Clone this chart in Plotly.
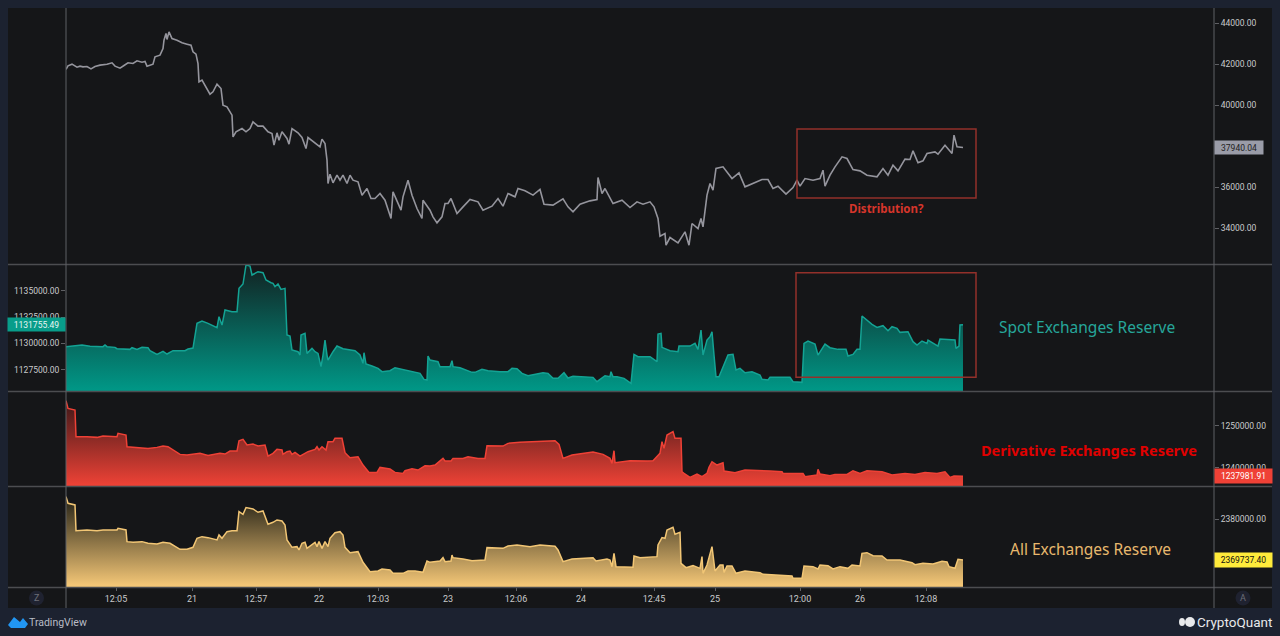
import plotly.graph_objects as go

# x is the bar position on the time scale (the scale is not even in days, so bars it is)
tick_bars = [50, 126, 190, 253, 312, 382, 450, 515, 588, 649, 734, 794, 860]
tick_labels = ["12:05", "21", "12:57", "22", "12:03", "23", "12:06", "24", "12:45", "25", "12:00", "26", "12:08"]

price_bars = [0, 2, 6, 9, 11, 14, 17, 21, 25, 29, 34, 41, 46, 49, 54, 58, 62, 67, 71, 76, 79, 81, 87, 89, 94, 97, 98, 100, 101, 103, 106, 111, 116, 121, 125, 127, 130, 132, 133, 136, 140, 144, 147, 151, 155, 157, 161, 164, 166, 167, 170, 176, 180, 184, 187, 192, 197, 202, 206, 208, 211, 213, 216, 221, 223, 226, 232, 236, 240, 242, 249, 254, 256, 259, 261, 262, 264, 267, 271, 274, 277, 281, 284, 287, 292, 296, 301, 305, 309, 314, 319, 322, 325, 327, 331, 335, 337, 342, 346, 351, 356, 357, 364,
              367, 371, 376, 379, 382, 385, 387, 391, 397, 404, 412, 417, 426, 432, 437, 442, 449, 452, 459, 467, 474, 478, 487, 497, 502, 507, 514, 524, 531, 532, 536, 539, 547, 556, 564, 571, 577, 584, 588, 592, 594, 599, 600, 604, 612, 619, 623, 626, 632, 635, 637, 641, 644, 647, 650, 657, 666, 673, 679, 689, 696, 702, 707, 712, 720, 727, 731, 734, 739, 747, 754, 757, 759, 764, 769, 776, 781, 787, 794,
              801, 811, 817, 822, 827, 832, 839, 844, 847, 852, 857, 861, 869, 872, 879, 886, 888, 891, 897]
price_values = [41751, 41930, 42011, 41930, 41865, 41914, 41881, 41897, 41783, 41897, 41963, 42011, 42077, 41914, 41816, 41946, 42077, 42044, 42174, 42109, 42142, 41914, 42011, 42370, 42451, 42777, 43185, 43511, 43218, 43592, 43267, 43185, 43055, 42989, 42940, 42615, 42500, 42044, 41147, 41229, 40870, 40544, 40658, 41033, 40821, 40007, 39925, 39632, 39518, 38458, 38703, 38865, 38703, 38865, 39191, 38980, 38980, 38703, 38621, 38050, 38654, 38295, 38703, 38377, 38099, 38865, 38654, 38425, 37887, 38425, 38165, 37969, 38344, 38132, 37317, 36176, 36632, 36209, 36584, 36339, 36584, 36176, 36584, 36339, 36257, 35605, 35931, 35442, 35442, 35687, 35361, 34953, 34465, 35769, 35361, 34872, 35524, 36339, 35605, 34953, 34465, 35361, 34872,
                34546, 34253, 34546, 35198, 35198, 35442, 35198, 34709, 35035, 35394, 35279, 34872, 35068, 35442, 35068, 35687, 35524, 35931, 35817, 35606, 35883, 35165, 35117, 35426, 35035, 34790, 35165, 35328, 35394, 36469, 35687, 35931, 35198, 35361, 35002, 35279, 35165, 35279, 35035, 34464, 33601, 33731, 33160, 33535, 33275, 33812, 33160, 34220, 33975, 34464, 34057, 35606, 36176, 35850, 36910, 36991, 36420, 36698, 36013, 36209, 36372, 36372, 35932, 36046, 35654, 35980, 36339, 36046, 36420, 36339, 36420, 36828, 36046, 36583, 36991, 37480, 37398, 36860, 36795,
                36583, 36502, 36910, 36583, 37072, 36795, 37366, 37349, 37773, 37187, 37284, 37643, 37724, 37610, 38050, 37643, 38540, 37969, 37940.04]

spot_bars = [0, 9, 16, 24, 37, 39, 41, 49, 51, 64, 66, 71, 76, 82, 84, 91, 97, 101, 107, 119, 122, 127, 129, 131, 136, 142, 151, 153, 156, 159, 166, 171, 173, 177, 180, 184, 186, 192, 197, 200, 205, 207, 209, 212, 215, 219, 221, 224, 226, 232, 234, 235, 239, 241, 246, 249, 252, 255, 257, 259, 261, 262, 267, 271, 277, 289, 294, 297, 298, 300, 306, 312, 316, 324, 329, 336, 344, 351, 354, 358, 361, 362, 364,
             372, 374, 384, 386, 387, 394, 406, 409, 416, 422, 434, 442, 446, 451, 456, 462, 477, 482, 487, 492, 498, 502, 507, 521, 527, 531, 539, 544, 545, 547, 551, 558, 565, 568, 572, 584, 591, 592, 595, 596, 604, 612, 613, 624, 629, 632, 635, 637, 641, 644, 646, 648, 650, 653, 657, 662, 667, 670, 674, 679, 686, 694, 696, 702, 704, 716, 724, 727, 736, 738, 742, 749, 752, 759, 764, 772, 780, 782, 787, 791, 794,
             796, 801, 806, 811, 817, 822, 826, 831, 834, 842, 847, 851, 856, 861, 862, 872, 874, 889, 890, 893, 894, 897]
spot_values = [1129683, 1129746, 1129841, 1129715, 1129683, 1129841, 1129683, 1129620, 1129493, 1129430, 1129588, 1129430, 1129620, 1129588, 1129303, 1128955, 1129240, 1128987, 1129303, 1129303, 1129461, 1129556, 1130696, 1131899, 1132120, 1131899, 1131487, 1132532, 1131740, 1133165, 1133006, 1133006, 1135222, 1135633, 1137437, 1137342, 1136488, 1136804, 1136709, 1136013, 1135760, 1135697, 1135380, 1135633, 1135127, 1135222, 1130791, 1130696, 1129367, 1129208, 1128892, 1130791, 1130949, 1129050, 1129525, 1129208, 1129050, 1127784, 1128892, 1130316, 1128892, 1128417, 1129208, 1129746, 1129493, 1129303, 1128892, 1128101, 1129113, 1128037, 1127847, 1127626, 1127309, 1127404, 1127689, 1127531, 1127309, 1127214, 1127151, 1126581, 1126518, 1128797, 1128417,
               1128259, 1127784, 1127784, 1128354, 1127784, 1127689, 1127246, 1127246, 1127531, 1127404, 1127309, 1127309, 1127626, 1127594, 1127151, 1126930, 1127214, 1127151, 1126676, 1126676, 1127214, 1126708, 1126866, 1126835, 1126771, 1126360, 1126930, 1126835, 1127309, 1126835, 1126835, 1126676, 1126202, 1128955, 1128734, 1128734, 1128259, 1130886, 1130949, 1129620, 1129303, 1129208, 1129746, 1129746, 1130000, 1129430, 1131266, 1128892, 1130316, 1130633, 1131107, 1128892, 1126835, 1126835, 1127784, 1128892, 1128955, 1127467, 1127626, 1127214, 1127309, 1126993, 1126581, 1126518, 1126771, 1126771, 1126771, 1126360, 1126296, 1129999, 1130221, 1129936, 1128892, 1129936, 1129588, 1129430, 1129430, 1128797, 1128955, 1129430, 1129430,
               1132595, 1132152, 1131804, 1131519, 1131677, 1131202, 1131582, 1131424, 1131044, 1131107, 1130158, 1129841, 1130221, 1130000, 1130316, 1129746, 1130411, 1130316, 1129525, 1129746, 1131740, 1131755.49]

deriv_bars = [0, 2, 9, 10, 21, 31, 37, 51, 52, 60, 61, 67, 82, 91, 97, 102, 109, 114, 121, 134, 142, 154, 159, 164, 171, 173, 177, 181, 187, 192, 199, 202, 207, 211, 216, 217, 221, 224, 226, 229, 234, 242, 249, 251, 253, 256, 260, 262, 267, 269, 276, 279, 284, 292, 297, 303, 311, 314, 324, 329, 337, 339, 346, 352, 359, 364,
              369, 374, 377, 379, 385, 387, 397, 402, 412, 419, 421, 437, 442, 454, 471, 481, 489, 493, 497, 506, 521, 527, 537, 544, 546, 548, 549, 564, 581, 587, 594, 596, 598, 601, 607, 609, 615, 616, 618, 624, 631, 636, 641, 643, 646, 651, 657, 658, 669, 679, 704, 716, 717, 737, 739, 751, 752, 754, 764, 769, 781, 787, 794,
              801, 816, 826, 839, 849, 859, 871, 879, 884, 888, 896, 897]
deriv_values = [1255955, 1254129, 1253732, 1247380, 1247380, 1247221, 1247539, 1247380, 1248174, 1247777, 1244998, 1244839, 1244601, 1244839, 1245157, 1244998, 1244045, 1243172, 1243013, 1243410, 1242934, 1243410, 1243251, 1243966, 1243966, 1246427, 1246745, 1245395, 1245633, 1245157, 1245395, 1242775, 1243410, 1244363, 1244204, 1243172, 1243807, 1243966, 1243172, 1243648, 1242775, 1243807, 1244363, 1244998, 1244204, 1244998, 1244204, 1246189, 1246189, 1246983, 1246983, 1243569, 1242378, 1242616, 1240631, 1238884, 1238884, 1240075, 1239678, 1238884, 1238646, 1239281, 1239758, 1239440, 1240464, 1240393,
                1240631, 1241584, 1242219, 1241584, 1241584, 1242219, 1242219, 1242616, 1242219, 1242219, 1245236, 1245157, 1245792, 1246030, 1246189, 1246189, 1246427, 1245554, 1242219, 1243013, 1243410, 1243728, 1243172, 1242219, 1241028, 1244045, 1241187, 1241663, 1241584, 1241663, 1243410, 1246189, 1244601, 1247777, 1248571, 1246983, 1246983, 1239043, 1238646, 1237693, 1238488, 1237852, 1238646, 1240075, 1241425, 1240631, 1241187, 1239202, 1238805, 1239440, 1239202, 1239043, 1238646, 1238646, 1237852, 1238249, 1239599, 1238488, 1238090, 1238408, 1238408, 1239281, 1238646,
                1239281, 1239043, 1238249, 1238646, 1238408, 1238884, 1238646, 1239043, 1237693, 1238010, 1238010, 1237981.91]

all_bars = [0, 2, 9, 10, 21, 31, 37, 51, 52, 60, 61, 67, 76, 82, 91, 97, 104, 114, 121, 127, 131, 136, 142, 151, 153, 156, 161, 166, 171, 173, 177, 180, 187, 192, 197, 202, 207, 211, 216, 219, 221, 226, 231, 233, 236, 239, 241, 246, 249, 251, 253, 256, 259, 262, 264, 269, 274, 277, 279, 284, 292, 297, 304, 312, 316, 324, 327, 337, 342, 349, 357, 361, 364,
            374, 377, 379, 385, 386, 387, 397, 406, 419, 421, 437, 442, 451, 464, 474, 489, 492, 497, 506, 521, 527, 530, 541, 544, 546, 548, 550, 567, 568, 574, 591, 592, 596, 599, 601, 607, 609, 614, 615, 620, 627, 634, 636, 637, 641, 646, 649, 654, 657, 658, 661, 666, 670, 679, 694, 697, 726, 727, 736, 738, 747, 752, 754, 762, 767, 774, 782, 786, 794,
            796, 801, 807, 816, 821, 834, 846, 849, 857, 867, 876, 881, 883, 889, 892, 897]
all_values = [2385718, 2384037, 2383616, 2377140, 2377309, 2377140, 2377309, 2377309, 2377729, 2377309, 2374365, 2374197, 2374365, 2373945, 2373776, 2374197, 2373945, 2372431, 2372431, 2372935, 2375206, 2375626, 2375374, 2374786, 2376047, 2375206, 2376888, 2377140, 2377140, 2381934, 2381261, 2382943, 2382607, 2381766, 2382102, 2378738, 2379243, 2379832, 2379579, 2378570, 2374786, 2372935, 2373104, 2372263, 2373945, 2374197, 2372683, 2373524, 2374197, 2373104, 2374365, 2372683, 2374365, 2373104, 2375206, 2376636, 2376888, 2376047, 2372935, 2371590, 2371842, 2369151, 2366797, 2366966, 2367469, 2367216, 2366376, 2366376, 2366966, 2366966, 2366628, 2369488, 2369151,
              2369488, 2370328, 2369319, 2369488, 2370998, 2370328, 2369992, 2369571, 2369740, 2372851, 2372683, 2373272, 2373524, 2373104, 2373524, 2373188, 2372263, 2369319, 2369992, 2370328, 2370328, 2369488, 2369992, 2369740, 2368058, 2371422, 2368058, 2367889, 2370749, 2370328, 2370581, 2373524, 2375374, 2375206, 2377309, 2377982, 2376215, 2376720, 2368899, 2367805, 2368310, 2367637, 2370581, 2366376, 2368478, 2373104, 2366966, 2368478, 2368478, 2366628, 2368226, 2368226, 2366376, 2366966, 2366544, 2366123, 2365703, 2365113, 2365113, 2368226, 2368058, 2367469, 2368478, 2368310, 2367469, 2368058, 2367637, 2368478, 2368226,
              2371421, 2371589, 2370833, 2370748, 2369739, 2369739, 2369066, 2368562, 2368898, 2368730, 2369403, 2369234, 2368057, 2367637, 2369907, 2369737.40]

price_ticks = [34000, 36000, 40000, 42000, 44000]
spot_ticks = [1127500, 1130000, 1132500, 1135000]
deriv_ticks = [1240000, 1250000]
all_ticks = [2380000]

W, H = 1280, 636
LEFT, RIGHT, TOP, BOTTOM = 66, 1214, 8, 587
BG_OUT = "#1c2230"
BG_IN = "#151618"
AXIS_LINE = "#5f6064"
SEP_LINE = "#4c4d50"
LABEL = "#c9cacc"
FONT = "Roboto"
NOTE_FONT = "Noto Sans"


def fx(p):
    return (p - LEFT) / (RIGHT - LEFT)


def fy(p):
    return (BOTTOM - p) / (BOTTOM - TOP)


fig = go.Figure()

fig.add_trace(go.Scatter(x=price_bars, y=price_values, yaxis="y", mode="lines",
                         line=dict(color="#95959d", width=1.6)))
fig.add_trace(go.Scatter(x=spot_bars, y=spot_values, yaxis="y2", mode="lines",
                         line=dict(color="#14a394", width=1.5), fill="tozeroy",
                         fillgradient=dict(type="vertical", start=1125477, stop=1137440,
                                           colorscale=[[0, "rgb(0,152,135)"], [1, "rgb(18,34,34)"]])))
fig.add_trace(go.Scatter(x=deriv_bars, y=deriv_values, yaxis="y3", mode="lines",
                         line=dict(color="#ef4136", width=1.5), fill="tozeroy",
                         fillgradient=dict(type="vertical", start=1235643, stop=1256000,
                                           colorscale=[[0, "rgb(239,66,54)"], [1, "rgb(60,24,24)"]])))
fig.add_trace(go.Scatter(x=all_bars, y=all_values, yaxis="y4", mode="lines",
                         line=dict(color="#f2c675", width=1.5), fill="tozeroy",
                         fillgradient=dict(type="vertical", start=2362929, stop=2384500,
                                           colorscale=[[0, "rgb(247,201,120)"], [1, "rgb(44,40,26)"]])))


def y_axis(domain, y_range, ticks, side):
    return dict(domain=domain, range=y_range, side=side, anchor="x", tickvals=ticks, tickformat=".2f",
                showgrid=False, zeroline=False, showline=False, ticks="outside", ticklen=4, tickwidth=1,
                tickcolor=AXIS_LINE, tickfont=dict(family=FONT, size=8.5, color=LABEL), fixedrange=True)


# panels are stacked, the dark inner box and the separators are drawn as shapes
shapes = [
    dict(type="rect", xref="paper", yref="paper", x0=fx(8), x1=fx(1272), y0=fy(8), y1=fy(608),
         fillcolor=BG_IN, line_width=0, layer="below"),
]
for sep in [264.5, 391.5, 486.5, 587.5]:
    shapes.append(dict(type="line", xref="paper", yref="paper", x0=fx(8), x1=fx(1272), y0=fy(sep), y1=fy(sep),
                       line=dict(color=SEP_LINE, width=1.5)))
for vert in [66, 1214]:
    shapes.append(dict(type="line", xref="paper", yref="paper", x0=fx(vert), x1=fx(vert), y0=fy(8), y1=fy(608),
                       line=dict(color=AXIS_LINE, width=1)))

# the two red boxes
shapes.append(dict(type="rect", xref="x", yref="y", x0=731, x1=910, y0=35462, y1=38836,
                   line=dict(color="#93302a", width=1.5)))
shapes.append(dict(type="rect", xref="x", yref="y2", x0=730, x1=910, y0=1126771, y1=1136709,
                   line=dict(color="#93302a", width=1.5)))

# small round buttons under the axis
for cx, r in [(36.5, 7.5), (1243, 7.5)]:
    shapes.append(dict(type="circle", xref="paper", yref="paper", x0=fx(cx - r), x1=fx(cx + r),
                       y0=fy(598 + r), y1=fy(598 - r), fillcolor="#1f2230", line_width=0))

# logos, rough
shapes.append(dict(type="path", xref="paper", yref="paper", fillcolor="#2196f3", line_width=0,
                   path="M {} {} L {} {} L {} {} L {} {} L {} {} L {} {} L {} {} Z".format(
                       fx(8), fy(625), fx(14), fy(617), fx(20), fy(622), fx(23), fy(618),
                       fx(28), fy(624), fx(25), fy(628), fx(11), fy(628))))
shapes.append(dict(type="circle", xref="paper", yref="paper", x0=fx(1179), x1=fx(1185), y0=fy(626), y1=fy(618),
                   fillcolor="#e8e9eb", line_width=0))
shapes.append(dict(type="circle", xref="paper", yref="paper", x0=fx(1185), x1=fx(1195), y0=fy(627), y1=fy(617),
                   fillcolor="#e8e9eb", line_width=0))

notes = [
    dict(text="<b>Distribution?</b>", xref="x", yref="paper", x=820, y=fy(208.5), font=dict(family=NOTE_FONT, size=11.5, color="#d5352b")),
    dict(text="Spot Exchanges Reserve", xref="paper", yref="paper", x=fx(1086.5), y=fy(327), font=dict(family=NOTE_FONT, size=15.5, color="#26a69a")),
    dict(text="<b>Derivative Exchanges Reserve</b>", xref="paper", yref="paper", x=fx(1089), y=fy(450), font=dict(family=NOTE_FONT, size=14.5, color="#e00000")),
    dict(text="All Exchanges Reserve", xref="paper", yref="paper", x=fx(1090.5), y=fy(549), font=dict(family=NOTE_FONT, size=15.5, color="#e8b96e")),
    dict(text="Z", xref="paper", yref="paper", x=fx(36.5), y=fy(598), font=dict(family=FONT, size=9, color="#6d6f78")),
    dict(text="A", xref="paper", yref="paper", x=fx(1243), y=fy(598), font=dict(family=FONT, size=9, color="#6d6f78")),
    dict(text="TradingView", xref="paper", yref="paper", x=fx(58), y=fy(622), font=dict(family=FONT, size=10.5, color="#b9bdc6")),
    dict(text="CryptoQuant", xref="paper", yref="paper", x=fx(1234), y=fy(622), font=dict(family=FONT, size=13.5, color="#e8e9eb")),
    # last value tags
    dict(text=f"{price_values[-1]:.2f}", xref="paper", yref="y", x=fx(1214), y=price_values[-1], xanchor="left", width=48, height=13,
         bgcolor="#9a9ca8", font=dict(family=FONT, size=8.5, color="#222")),
    dict(text=f"{spot_values[-1]:.2f}", xref="paper", yref="y2", x=fx(66), y=spot_values[-1], xanchor="right", width=57, height=13,
         bgcolor="#089d8a", font=dict(family=FONT, size=8.5, color="#e8f5f3")),
    dict(text=f"{deriv_values[-1]:.2f}", xref="paper", yref="y3", x=fx(1214), y=deriv_values[-1], xanchor="left", width=57, height=14,
         bgcolor="#ef4136", font=dict(family=FONT, size=8.5, color="#ffffff")),
    dict(text=f"{all_values[-1]:.2f}", xref="paper", yref="y4", x=fx(1214), y=all_values[-1], xanchor="left", width=57, height=14,
         bgcolor="#ffeb3b", font=dict(family=FONT, size=8.5, color="#111111")),
]
for n in notes:
    n["showarrow"] = False
    n["borderpad"] = 0
    n["yanchor"] = "middle"
    if "xanchor" not in n:
        n["xanchor"] = "center"

fig.update_layout(
    width=W, height=H,
    margin=dict(l=LEFT, r=W - RIGHT, t=TOP, b=H - BOTTOM),
    paper_bgcolor=BG_OUT, plot_bgcolor=BG_IN,
    showlegend=False, hovermode=False,
    xaxis=dict(domain=[0, 1], range=[0, 1148], anchor="y4", tickvals=tick_bars, ticktext=tick_labels,
               showgrid=False, zeroline=False, showline=False, ticks="outside", ticklen=3, tickcolor=AXIS_LINE,
               tickfont=dict(family=FONT, size=9, color=LABEL), fixedrange=True),
    yaxis=y_axis([fy(264), fy(8)], [32240, 44758], price_ticks, "right"),
    yaxis2=y_axis([fy(391), fy(265)], [1125477, 1137440], spot_ticks, "left"),
    yaxis3=y_axis([fy(486), fy(392)], [1235643, 1258024], deriv_ticks, "right"),
    yaxis4=y_axis([fy(587), fy(487)], [2362929, 2388144], all_ticks, "right"),
    shapes=shapes,
    annotations=notes,
)

# the page keeps an 8px body margin otherwise
fig.write_html("out.html", config={"displayModeBar": False},
               post_script="document.body.style.margin='0';document.body.style.overflow='hidden';")
